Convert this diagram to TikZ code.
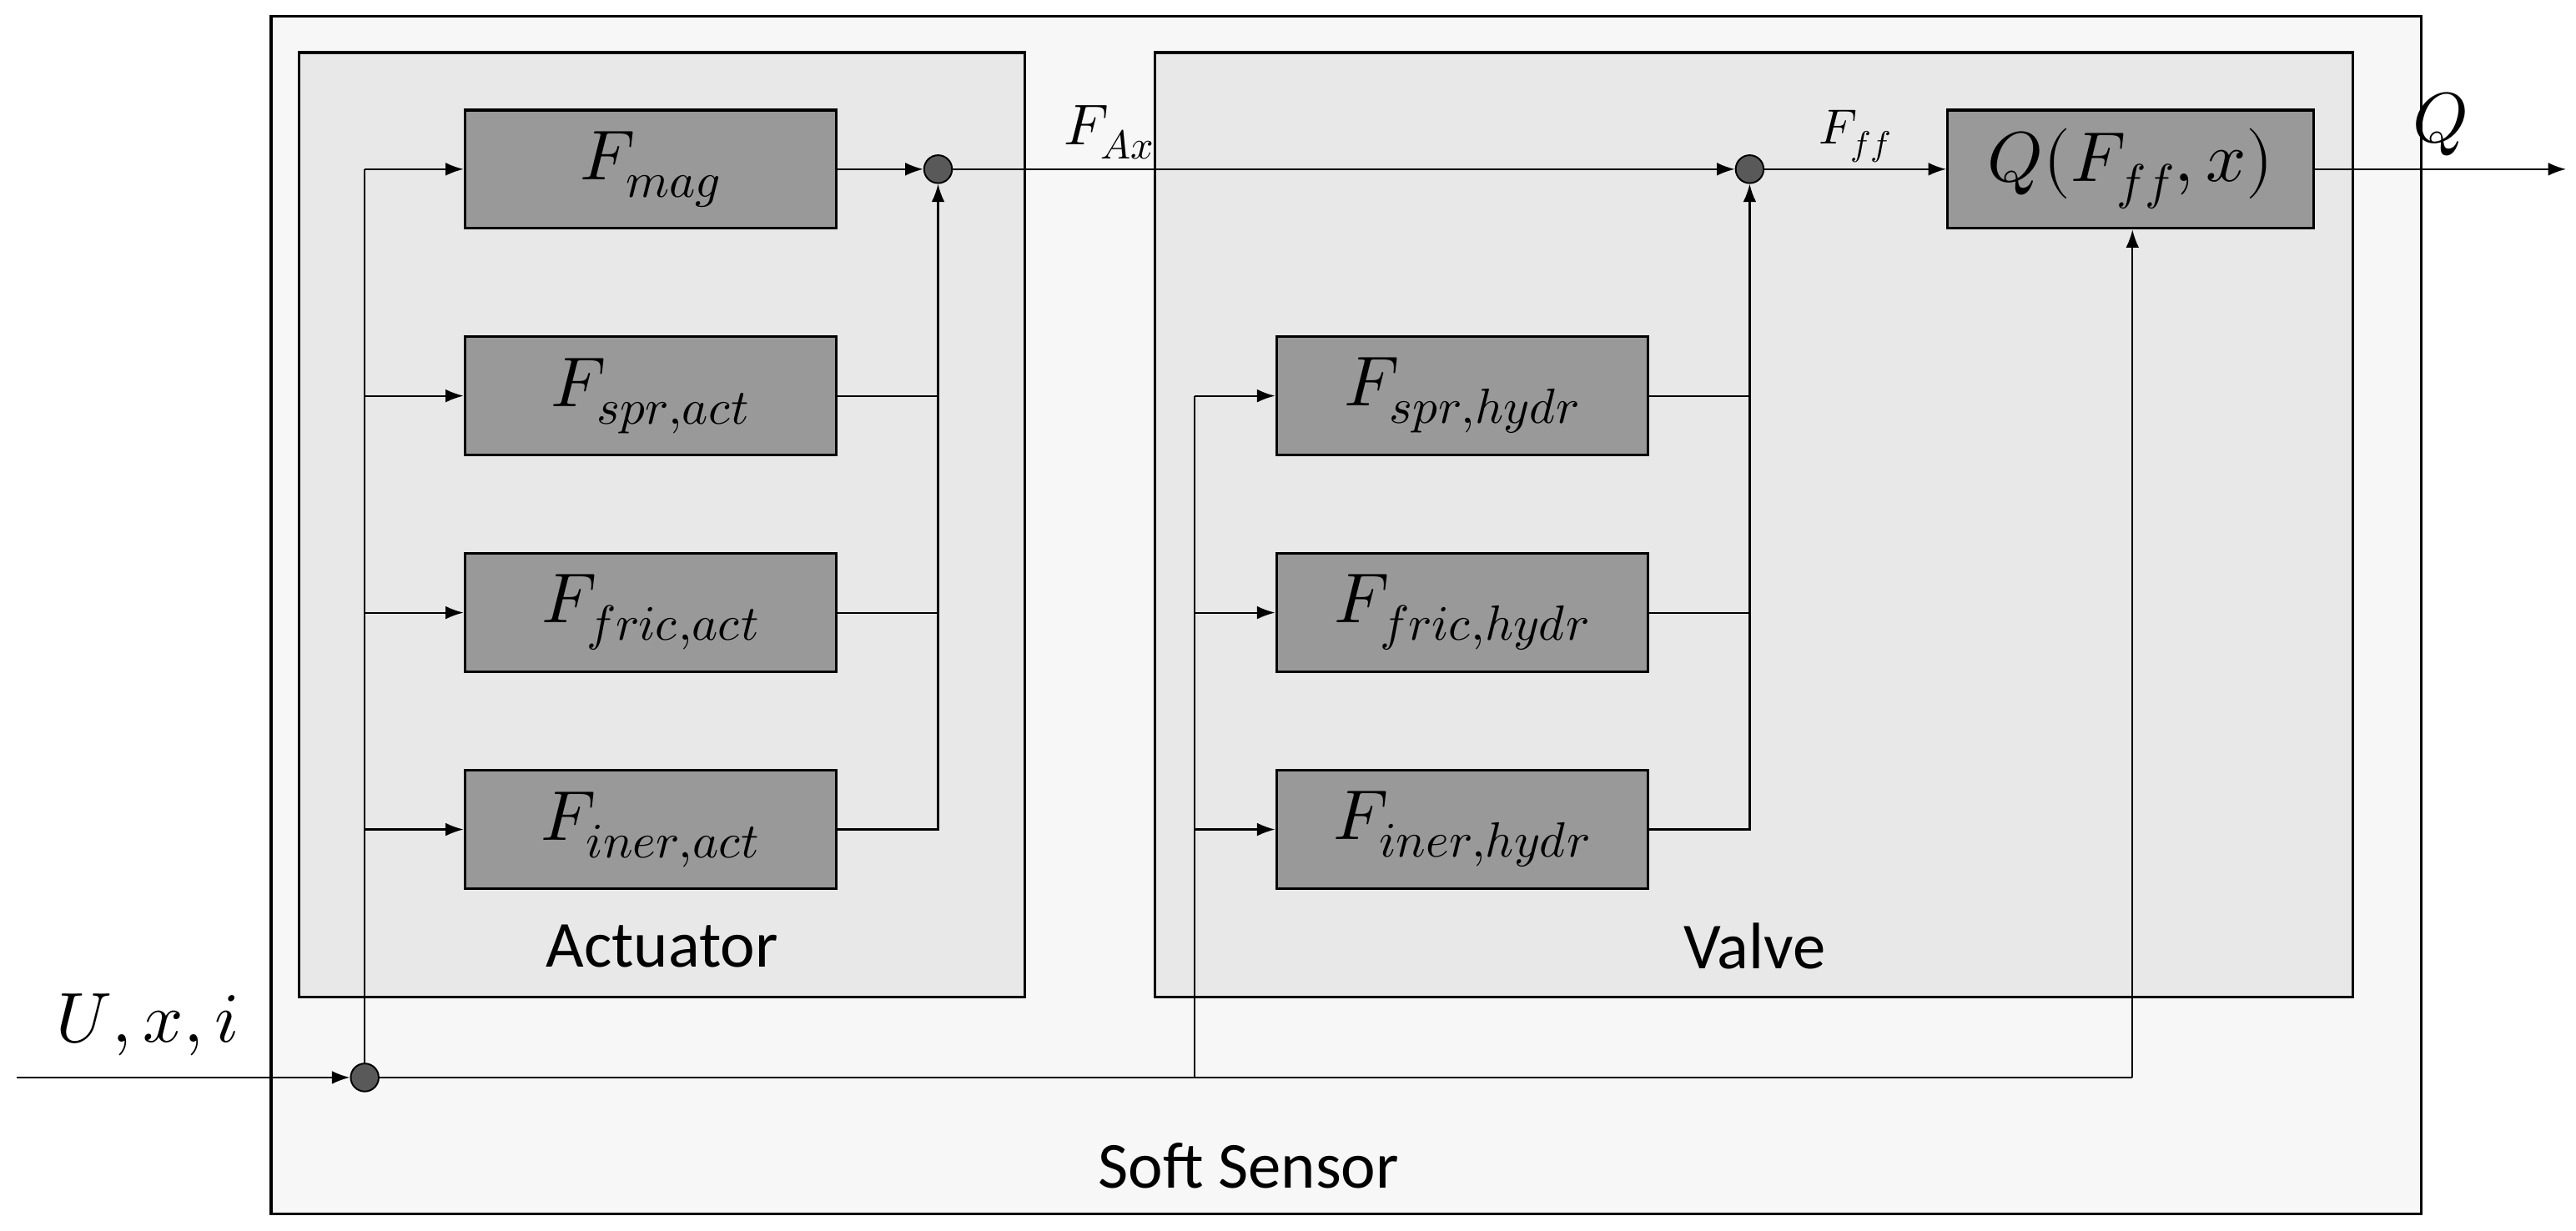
\documentclass[tikz,border=0pt]{standalone}
\usepackage{fontspec}
\usepackage{unicode-math}
\setmainfont{Carlito}
\setmathfont{Latin Modern Math}
\usetikzlibrary{arrows.meta}
\begin{document}
\begin{tikzpicture}[x=1pt,y=-1pt,
  grp/.style={draw=black,line width=1.6pt},
  blk/.style={draw=black,line width=1.6pt,fill=black!40,inner sep=0pt},
  sum/.style={circle,draw=black,fill=black!65,minimum size=17pt,inner sep=0pt,line width=1pt},
  ln/.style={line width=1.1pt},
  ar/.style={line width=1.1pt,-{Latex[length=11pt,width=8pt]}},
  lbl/.style={font=\fontsize{40}{44}\selectfont},
  mth/.style={font=\fontsize{43}{47}\selectfont}]
\useasboundingbox (0,0) rectangle (1568,749);
\draw[grp,fill=black!3] (165,10) rectangle (1474,739);
\draw[grp,fill=black!9] (182,32) rectangle (624,607);
\draw[grp,fill=black!9] (703,32) rectangle (1432,607);
\node[lbl] (la) at (403,576) {Actuator};
\node[lbl] (lv) at (1068,576) {Valve};
\node[lbl] (ls) at (760,710) {Soft Sensor};
% blocks
\node[blk,minimum width=226pt,minimum height=72pt,mth] (m) at (396,103) {$F_{mag}$};
\node[blk,minimum width=226pt,minimum height=72pt,mth] (sa) at (396,241) {$F_{spr,act}$};
\node[blk,minimum width=226pt,minimum height=72pt,mth] (fa) at (396,373) {$F_{fric,act}$};
\node[blk,minimum width=226pt,minimum height=72pt,mth] (ia) at (396,505) {$F_{iner,act}$};
\node[blk,minimum width=226pt,minimum height=72pt,mth] (sh) at (890,241) {$F_{spr,hydr}$};
\node[blk,minimum width=226pt,minimum height=72pt,mth] (fh) at (890,373) {$F_{fric,hydr}$};
\node[blk,minimum width=226pt,minimum height=72pt,mth] (ih) at (890,505) {$F_{iner,hydr}$};
\node[blk,minimum width=223pt,minimum height=72pt,mth] (q) at (1297,103) {$Q(F_{ff},x)$};
\node[sum] (s1) at (571,103) {};
\node[sum] (s2) at (1065,103) {};
\node[sum] (s0) at (222,656) {};
\coordinate (in) at (10,656);
\coordinate (out) at (1562,103);
\coordinate (v) at (727,656);
\coordinate (qb) at (1298,656);
% input distribution
\draw[ar] (in) -- (s0);
\draw[ln] (s0) -- (222,103);
\draw[ar] (222,103) -- (m.west);
\draw[ar] (222,241) -- (sa.west);
\draw[ar] (222,373) -- (fa.west);
\draw[ar] (222,505) -- (ia.west);
\draw[ln] (s0) -- (v) -- (qb);
\draw[ln] (v) -- (727,241);
\draw[ar] (727,241) -- (sh.west);
\draw[ar] (727,373) -- (fh.west);
\draw[ar] (727,505) -- (ih.west);
\draw[ar] (qb) -- (q.south -| qb);
% sums
\draw[ar] (m.east) -- (s1);
\draw[ln] (sa.east) -- (571,241);
\draw[ln] (fa.east) -- (571,373);
\draw[ln] (ia.east) -- (571,505) -- (571,241);
\draw[ar] (571,241) -- (s1);
\draw[ln] (sh.east) -- (1065,241);
\draw[ln] (fh.east) -- (1065,373);
\draw[ln] (ih.east) -- (1065,505) -- (1065,241);
\draw[ar] (1065,241) -- (s2);
\draw[ar] (s1) -- node[pos=0.2,above=2pt,font=\fontsize{35}{39}\selectfont]{$F_{Ax}$} (s2);
\draw[ar] (s2) -- node[midway,above=0pt,font=\fontsize{30}{34}\selectfont]{$F_{ff}$} (q.west);
\draw[ar] (q.east) -- node[midway,above=4pt,mth]{$Q$} (out);
\node[mth] (uxi) at (90,624) {$U,x,i$};
\end{tikzpicture}
\end{document}
